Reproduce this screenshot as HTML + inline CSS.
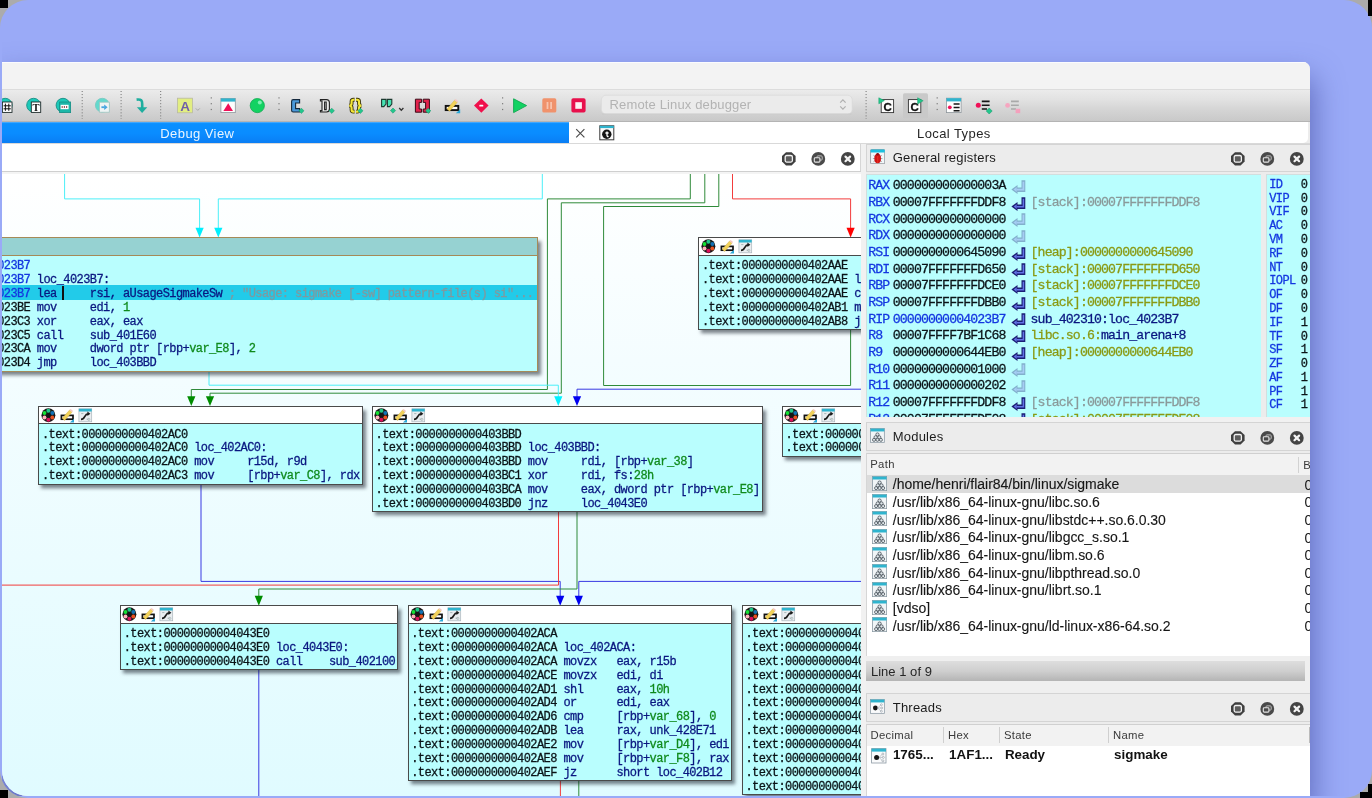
<!DOCTYPE html>
<html><head><meta charset="utf-8"><title>IDA</title>
<style>
*{box-sizing:border-box;margin:0;padding:0}
html,body{width:1372px;height:798px;overflow:hidden;background:#ababab}
body{font-family:"Liberation Sans",sans-serif;font-size:13px;color:#222;position:relative}
#bg{position:absolute;left:0;top:0;width:1372px;height:798px;border-radius:28px;background:#9aaaf7;overflow:hidden}
.blk{position:absolute;background:#000}
#win{position:absolute;left:2px;top:62px;width:1308px;height:734px;background:#ececec;border-radius:0 7px 0 26px;overflow:hidden;will-change:transform}
#wsh{position:absolute;left:2px;top:62px;width:1308px;height:734px;border-radius:0 7px 0 26px;box-shadow:0 18px 30px 3px rgba(45,55,140,.55);clip-path:inset(-40px -70px 0 0)}
#title{position:absolute;left:0;top:0;width:100%;height:27px;background:#f3f3f3;border-top:1px solid #fbfbfe}
#tool{position:absolute;left:0;top:27px;width:100%;height:33px;background:linear-gradient(#ebebeb 0%,#e2e2e2 30%,#d5d5d5 62%,#c9c9c9 100%);border-top:1px solid #dcdcdc;border-bottom:1px solid #b4b4b4}
#tabs{position:absolute;left:0;top:60px;width:1306px;height:21px;background:#fff;border-radius:0 0 5px 0}
#tabsel{position:absolute;left:0;top:0;width:566.8px;height:20.5px;background:linear-gradient(#58b2ff 0,#0a90ff 1.6px,#0a8cff 55%,#0a7ef4 100%)}
#tabsel span{position:absolute;left:158.3px;top:4px;color:#eaf5ff;font-size:13px;letter-spacing:.42px}
#tabx{position:absolute;left:573.3px;top:6.1px}
#tabi{position:absolute;left:597px;top:2.5px}
#ltypes{position:absolute;left:915px;top:4px;font-size:13px;color:#262626;letter-spacing:.42px}
#tabline{position:absolute;left:0;top:80.5px;width:100%;height:1px;background:#d9d9d9}
/* left pane */
#lhdr{position:absolute;left:0;top:82px;width:858.5px;height:27.5px;background:#fff;border-right:1px solid #d6d6d6}
#lline1{position:absolute;left:0;top:109.2px;width:858.5px;height:1.3px;background:#cfcfcf}
#lline2{position:absolute;left:0;top:111.6px;width:858.5px;height:1px;background:#c9c9c9}
#lgap{position:absolute;left:0;top:110.4px;width:858.5px;height:1.3px;background:#f4f4f4}
#graph{position:absolute;left:0;top:112.4px;width:858.7px;height:622px;overflow:hidden;background:linear-gradient(#ffffff 0%,#f4fdff 30%,#eafcff 65%,#e0fbff 100%)}
#gin{position:absolute;left:-2px;top:-174.4px;width:1372px;height:798px}
#gin svg.ed{position:absolute;left:0;top:0}
.node{position:absolute;border:1px solid #4a4a4a;background:#fff;box-shadow:3px 3.5px 3.5px rgba(20,30,40,.55);font-family:"Liberation Mono",monospace;font-size:12px;letter-spacing:-0.581px;white-space:pre;-webkit-text-stroke:.28px}
.node.cur{border-color:#a58a58}
.nh{height:17.4px;background:#fff;border-bottom:1px solid #4a4a4a;position:relative}
.nh.teal{background:#96d2d2;border-bottom-color:#a58a58}
.ni{position:absolute;left:.3px;top:0}
.nb{position:relative;background:#b9fefe;overflow:hidden}
.ln{position:absolute;left:2.6px;right:0;height:13.86px;line-height:13.86px}
.hlb{position:absolute;left:0;right:0;height:14.1px;background:#22cbe9}
.k{color:#0b1418}.n{color:#0a1780}.g{color:#0f8a1c}.b{color:#1437e0}.c{color:#7f9aa0}
.o{color:#8a9a14}.q{color:#8a9a9a}
#cursor{position:absolute;left:61.9px;top:286.4px;width:2.1px;height:13.3px;background:#111}
/* right side */
#split{position:absolute;left:858.5px;top:82px;width:5px;height:652px;background:#f1f1f1}
.ph{position:absolute;left:863.5px;width:444.5px;background:#ececec;border:1px solid #d4d4d4;border-right:none}
.ph .t{position:absolute;left:26.3px;font-size:13px;color:#1c1c1c;letter-spacing:.2px}
.ph svg.ic{position:absolute;left:3.7px;width:15.3px;height:15.3px}
.pb{position:absolute;top:6.6px}
#regs{position:absolute;left:863.7px;top:112.4px;width:395.6px;height:243.3px;background:#b9fefe;overflow:hidden;font-family:"Liberation Mono",monospace;font-size:13.2px;letter-spacing:-0.87px;white-space:pre;-webkit-text-stroke:.28px;border:1px solid #d2dede;border-right:none;border-bottom:none}
.rr{position:absolute;left:0;height:16.67px;line-height:16.67px;width:100%}
.rn{position:absolute;left:1.6px;color:#1437e0}
.rv{position:absolute;left:26.1px}
.ra{position:absolute;left:144.5px;top:1.5px}
.rc{position:absolute;left:163.9px}
#flags{position:absolute;left:1264px;top:112.4px;width:46px;height:243.3px;background:#b9fefe;overflow:hidden;font-family:"Liberation Mono",monospace;font-size:12px;letter-spacing:-0.581px;white-space:pre;-webkit-text-stroke:.28px;border-left:1px solid #d2dede;border-top:1px solid #d2dede}
.fr{position:absolute;left:2.2px;height:13.75px;line-height:13.75px}
.fv{position:absolute;left:31.6px}
#rgap{position:absolute;left:863.5px;top:355.4px;width:446px;height:5px;background:#f1f1f1}
/* modules */
#mods{position:absolute;left:863.7px;top:391.4px;width:446px;height:202.4px;background:#fff;overflow:hidden;border-left:1px solid #d6d6d6;border-top:1px solid #d0d0d0}
#mhead{position:absolute;left:0;top:0;width:100%;height:20.6px;background:#f2f2f2;font-size:11.3px;letter-spacing:.3px;color:#3a3a3a}
#mhead span{position:absolute;top:4.3px}
#mhead i{position:absolute;top:3px;width:1px;height:16px;background:#d2d2d2}
.mr{position:absolute;left:0;width:100%;height:17.65px}
.mr.sel{background:#dcdcdc}
.mi{position:absolute;left:5.5px;top:1.1px;width:15.6px;height:15.6px}
.mt{position:absolute;left:26.1px;top:1.35px;font-size:14px;color:#161616;white-space:pre;letter-spacing:-.02px;-webkit-text-stroke:.12px}
.mz{position:absolute;left:437.8px;top:1.6px;font-size:14px;color:#161616}
#mbelow{position:absolute;left:863.5px;top:593.6px;width:446px;height:38px;background:#efefef}
#status{position:absolute;left:863.7px;top:598.6px;width:439px;height:20px;background:linear-gradient(#dedede,#cfcfcf 50%,#b4b4b4);font-size:13px;color:#262626}
#status span{position:absolute;left:5.2px;top:3.1px;letter-spacing:.03px}
/* threads */
#thr{position:absolute;left:863.7px;top:662.4px;width:446px;height:72px;background:#fff;border-left:1px solid #d6d6d6;border-top:1px solid #d0d0d0;overflow:hidden}
#thead{position:absolute;left:0;top:0;width:100%;height:20.6px;background:#f2f2f2;font-size:11.3px;letter-spacing:.3px;color:#3a3a3a}
#thead span{position:absolute;top:3.8px}
#thead i{position:absolute;top:2px;width:1px;height:16px;background:#cfcfcf}
#trow{position:absolute;left:0;top:20.6px;width:100%;height:18px;font-size:13.4px;font-weight:bold;color:#111}
#trow span{position:absolute;top:1.3px}
</style></head><body>
<svg width="0" height="0" style="position:absolute"><defs>
<symbol id="nodeicons" viewBox="0 0 56 17">
 <circle cx="8.4" cy="8.2" r="6.95" fill="#1a1a1a"/>
 <circle cx="8.4" cy="3.7" r="2.0" fill="#20c888"/>
 <circle cx="12.3" cy="5.95" r="1.95" fill="#1272b4"/>
 <circle cx="12.3" cy="10.45" r="1.95" fill="#ea5220"/>
 <circle cx="8.4" cy="12.7" r="2.0" fill="#e0105c"/>
 <circle cx="4.5" cy="10.45" r="1.95" fill="#ffb4bc"/>
 <circle cx="4.5" cy="5.95" r="1.95" fill="#14e034"/>
 <circle cx="8.4" cy="8.2" r="2.3" fill="#151515"/>
 <rect x="21.4" y="8.4" width="11.6" height="3.8" fill="#fff" stroke="#111" stroke-width="1.7"/>
 <path d="M22.2 11.2 L29.6 3 L32 5.2 L24.6 13.4 Z" fill="#f2d25a" stroke="#c9a63a" stroke-width=".4"/>
 <path d="M29.6 3 L30.7 1.9 L33.1 4.1 L32 5.2Z" fill="#f4c6c0"/>
 <path d="M34 11.8 L34 15.4 L29.8 15.4 Z" fill="#2aa8d8"/>
 <rect x="38.9" y="1.8" width="12.8" height="13" fill="#e9edf0" stroke="#a9b4bc" stroke-width=".7"/>
 <rect x="38.9" y="1.8" width="12.8" height="2.7" fill="#2fb4ce"/>
 <path d="M41 12.4 C45.4 12.4 44 6.8 48.2 6.8" fill="none" stroke="#1c1c1c" stroke-width="1.7"/>
 <path d="M47.4 4.6 L50.4 6.8 L47.4 9Z" fill="#1c1c1c"/>
 <path d="M41.2 6.6 L43.4 6.6 M46.6 12.2 L48.6 12.2" stroke="#9aa" stroke-width=".8"/>
 <circle cx="48.8" cy="12.4" r="1.1" fill="none" stroke="#9aa" stroke-width=".6"/>
</symbol>
<symbol id="panelbtns" viewBox="0 0 76 16">
 <path d="M5 1.2 L10.6 1.2 L14.6 5 L14.6 10.6 L10.6 14.6 L5 14.6 L1 10.6 L1 5Z" fill="#3f3f3f"/>
 <rect x="4.2" y="4.5" width="7.2" height="6.6" rx="1.5" fill="#5c5c5c" stroke="#f2f2f2" stroke-width="1.3"/>
 <circle cx="37.3" cy="7.9" r="6.9" fill="#4a4a4a"/>
 <rect x="36" y="4.9" width="5.2" height="4.2" rx=".9" fill="none" stroke="#bdbdbd" stroke-width="1"/>
 <rect x="33.3" y="6.7" width="5.6" height="4.4" rx=".9" fill="#4a4a4a" stroke="#e6e6e6" stroke-width="1.1"/>
 <circle cx="66.8" cy="7.9" r="6.9" fill="#444"/>
 <path d="M64.5 5.6 L69.1 10.2 M69.1 5.6 L64.5 10.2" stroke="#f4f4f4" stroke-width="2.2" stroke-linecap="round"/>
</symbol>
<symbol id="bugicon" viewBox="0 0 16 16">
 <rect x=".6" y=".6" width="14.8" height="14.8" rx=".8" fill="#f1f7f9" stroke="#8e9298" stroke-width=".9"/>
 <path d="M.6 1.4 Q.6 .6 1.4 .6 H14.6 Q15.4 .6 15.4 1.4 V3.7 H.6Z" fill="#1cc0de"/>
 <path d="M3.6 6.6 L12.4 13.4 M12.4 6.6 L3.6 13.4 M3 10 L13 10" stroke="#8a9296" stroke-width=".8"/>
 <ellipse cx="8" cy="9.9" rx="3.5" ry="4.9" fill="#cf1414"/>
 <path d="M8 5.2 V14.6" stroke="#e42a1a" stroke-width="1.4"/>
 <circle cx="8" cy="5.6" r="1.5" fill="#8e1010"/>
</symbol>
<symbol id="modicon" viewBox="0 0 16 16">
 <rect x=".6" y=".6" width="14.4" height="14.4" fill="#f1f5f7" stroke="#8c9aa4" stroke-width=".8"/>
 <rect x=".6" y=".6" width="14.4" height="3" fill="#2fb4ce"/>
 <g fill="#dfe6ea" stroke="#3c464e" stroke-width=".75">
  <circle cx="7.8" cy="6.8" r="1.7"/><circle cx="5.9" cy="9.7" r="1.7"/><circle cx="9.7" cy="9.7" r="1.7"/>
  <circle cx="4.2" cy="12.4" r="1.6"/><circle cx="7.8" cy="12.4" r="1.6"/><circle cx="11.4" cy="12.4" r="1.6"/>
 </g>
</symbol>
<symbol id="thricon" viewBox="0 0 16 16">
 <rect x=".6" y=".6" width="14.4" height="14.4" fill="#fafbfc" stroke="#8c9aa4" stroke-width=".8"/>
 <rect x=".6" y=".6" width="14.4" height="3" fill="#2fb4ce"/>
 <circle cx="5.6" cy="9.4" r="2.5" fill="#161616"/>
 <path d="M8 9.4 L11.4 6.2 M8 9.4 L11.8 9.4 M8 9.4 L11.4 12.6" stroke="#9aa4ac" stroke-width=".6"/>
 <g fill="#fff" stroke="#8a949c" stroke-width=".6"><circle cx="11.9" cy="6" r="1"/><circle cx="12.3" cy="9.4" r="1"/><circle cx="11.9" cy="12.8" r="1"/></g>
</symbol>
<symbol id="tabicon" viewBox="0 0 16 16">
 <rect x=".8" y=".8" width="14" height="14" fill="#fbfbfb" stroke="#3a3a3a" stroke-width="1"/>
 <rect x=".8" y=".8" width="14" height="2.3" fill="#2fb4ce"/>
 <circle cx="7.8" cy="9.2" r="4.7" fill="#141414"/>
 <path d="M8 6.4 V10.6 Q8 11.8 9.6 11.4 M6.4 8 H9.6" stroke="#fff" stroke-width="1.3" fill="none"/>
</symbol>
<symbol id="retd" viewBox="0 0 15 14">
 <path d="M10.5 0.2 H14.3 V11.9 H6.5 V13.9 L0.35 9.6 L6.5 4.9 V7.4 H10.5 Z" fill="#1b1f74"/>
 <path d="M12.4 1.7 V9.65 H5.6" fill="none" stroke="#6272e6" stroke-width="1.5"/>
 <path d="M2.7 9.6 L5.7 7.3 V11.9Z" fill="#6272e6"/>
</symbol>
<symbol id="retl" viewBox="0 0 15 14">
 <path d="M10.5 0.2 H14.3 V11.9 H6.5 V13.9 L0.35 9.6 L6.5 4.9 V7.4 H10.5 Z" fill="#82b0cc"/>
 <path d="M12.4 1.7 V9.65 H5.6" fill="none" stroke="#a6cdf4" stroke-width="1.7"/>
 <path d="M2.5 9.6 L5.7 7.1 V12.1Z" fill="#a6cdf4"/>
</symbol>
</defs></svg>
<div id="bg">
<div id="wsh"></div>
<div id="win">
 <div id="title"></div>
 <div id="tool"><svg style="position:absolute;left:0;top:-1px" width="1308" height="33" viewBox="2 89 1308 33"><circle cx="5.2" cy="105.2" r="6.9" fill="#1cc9b8" stroke="#168f86" stroke-width=".9"/><rect x="2.4" y="102" width="9.6" height="10.4" fill="#fff" stroke="#1f2b2b" stroke-width=".9"/><path d="M5.4 103.6 V110.8 M8.8 103.6 V110.8 M3.6 105.8 H10.8 M3.6 108.8 H10.8" stroke="#111" stroke-width="1"/><circle cx="33.6" cy="105.2" r="6.9" fill="#1cc9b8" stroke="#168f86" stroke-width=".9"/><rect x="31.3" y="102" width="9.4" height="10.4" fill="#fff" stroke="#1f2b2b" stroke-width=".9"/><text x="36" y="111.3" font-family="Liberation Serif" font-weight="bold" font-size="10.5" text-anchor="middle" fill="#111">T</text><circle cx="63.0" cy="105.2" r="6.9" fill="#1cc9b8" stroke="#168f86" stroke-width=".9"/><rect x="59.6" y="102" width="11" height="10.6" fill="#1cb7a8" stroke="#168f86" stroke-width=".8"/><rect x="60.6" y="104.8" width="8" height="4.4" fill="#fff"/><path d="M61.6 107 h1.2 m1 0 h1.2 m1 0 h1.2" stroke="#7a2a2a" stroke-width="1.6"/><line x1="82.2" y1="91" x2="82.2" y2="119" stroke="#707070" stroke-width="1" stroke-dasharray="1 2.05"/><circle cx="102.3" cy="105.2" r="6.9" fill="#62d9cd" stroke="#7ac9c2" stroke-width=".9"/><rect x="99.5" y="102.2" width="9.8" height="10" fill="#eef4f4" stroke="#9fc6c2" stroke-width=".8"/><path d="M101.4 107.2 H104.6" stroke="#46a6e0" stroke-width="1.8"/><path d="M104.2 104.4 L107.6 107.2 L104.2 110Z" fill="#46a6e0"/><line x1="121.1" y1="91" x2="121.1" y2="119" stroke="#707070" stroke-width="1" stroke-dasharray="1 2.05"/><path d="M136.6 99.6 C141.4 99 142.2 100.4 142.2 104 L142.2 108" fill="none" stroke="#1fae9f" stroke-width="2.6"/><path d="M136.9 107.3 L147.3 107.3 L142.1 112.9Z" fill="#1fae9f"/><line x1="160.7" y1="91" x2="160.7" y2="119" stroke="#707070" stroke-width="1" stroke-dasharray="1 2.05"/><rect x="177.4" y="98.2" width="15" height="14.6" fill="#e2ee82" stroke="#b9b9a0" stroke-width=".8"/><text x="185" y="110.6" font-family="Liberation Sans" font-weight="bold" font-size="13.5" text-anchor="middle" fill="#7060a8">A</text><path d="M195.8 108.4 L197.8 110.4 L199.8 108.4" fill="none" stroke="#a8a8a8" stroke-width="1"/><rect x="210.7" y="97.3" width="1.2" height="1.2" fill="#7a7a7a"/><rect x="210.7" y="103.1" width="1.2" height="1.2" fill="#7a7a7a"/><rect x="210.7" y="108.9" width="1.2" height="1.2" fill="#7a7a7a"/><rect x="220.9" y="98.4" width="14.4" height="14.2" fill="#fdfdfd" stroke="#8e969c" stroke-width=".8"/><rect x="220.9" y="98.4" width="14.4" height="3.2" fill="#2fb4ce"/><path d="M223.4 111 L233 111 L228.2 103.2Z" fill="#f01058"/><circle cx="257.3" cy="105.6" r="7.1" fill="#12d262" stroke="#0faa50" stroke-width=".8"/><circle cx="259.8" cy="102.4" r="2" fill="#7af0b0"/><rect x="278.4" y="97.3" width="1.2" height="1.2" fill="#7a7a7a"/><rect x="278.4" y="103.1" width="1.2" height="1.2" fill="#7a7a7a"/><rect x="278.4" y="108.9" width="1.2" height="1.2" fill="#7a7a7a"/><path d="M299.6 99.6 H293.2 Q291.6 99.6 291.6 101.4 V110.2 Q291.6 112 293.2 112 H299.6 V108.6 H295.6 V103 H299.6Z" fill="#4a98da" stroke="#14283c" stroke-width="1.1"/><path d="M301.4 108.2 L304.0 110.8 L301.4 113.4 L298.8 110.8Z" fill="#22c78c" stroke="#14936a" stroke-width=".5"/><path d="M320.4 99.6 H326.4 Q329.4 99.6 329.4 102.6 V109 Q329.4 112 326.4 112 H320.4 V110.6 H322 V101 H320.4Z M324.6 102 V109.6 H326.2 V102Z" fill="#e9e9e9" stroke="#222" stroke-width="1.1" fill-rule="evenodd"/><path d="M331.8 108.2 L334.4 110.8 L331.8 113.4 L329.2 110.8Z" fill="#22c78c" stroke="#14936a" stroke-width=".5"/><path d="M354.6 99.8 H353.4 Q351.6 99.8 351.6 101.6 V103.6 Q351.6 105.4 349.4 105.7 Q351.6 106 351.6 107.8 V109.8 Q351.6 111.6 353.4 111.6 H354.6 M356 99.8 H357.2 Q359 99.8 359 101.6 V103.6 Q359 105.4 361.2 105.7 Q359 106 359 107.8 V109.8 Q359 111.6 357.2 111.6 H356" fill="none" stroke="#3c360c" stroke-width="3.9"/><path d="M354.6 99.8 H353.4 Q351.6 99.8 351.6 101.6 V103.6 Q351.6 105.4 349.4 105.7 Q351.6 106 351.6 107.8 V109.8 Q351.6 111.6 353.4 111.6 H354.6 M356 99.8 H357.2 Q359 99.8 359 101.6 V103.6 Q359 105.4 361.2 105.7 Q359 106 359 107.8 V109.8 Q359 111.6 357.2 111.6 H356" fill="none" stroke="#f4e636" stroke-width="2.1"/><path d="M360.4 108.2 L363.0 110.8 L360.4 113.4 L357.8 110.8Z" fill="#22c78c" stroke="#14936a" stroke-width=".5"/><path d="M381.6 99.4 H386 V104 L383.8 106.6 H381.6Z M387.4 99.4 H391.8 V104 L389.6 106.6 H387.4Z" fill="#46e2b2" stroke="#1c3a30" stroke-width="1.1"/><path d="M393.0 108.0 L395.6 110.6 L393.0 113.2 L390.4 110.6Z" fill="#22c78c" stroke="#14936a" stroke-width=".5"/><path d="M399.2 108 L401.3 110.2 L403.4 108" fill="none" stroke="#333" stroke-width="1.3"/><path d="M421.6 99.2 H415.4 V112.2 H421.6 V109 H419.2 V102.4 H421.6Z M423.2 99.2 H429.4 V112.2 H423.2 V109 H425.6 V102.4 H423.2Z" fill="#e2224c" stroke="#3a0a16" stroke-width="1"/><path d="M428.2 108.2 L430.8 110.8 L428.2 113.4 L425.6 110.8Z" fill="#22c78c" stroke="#14936a" stroke-width=".5"/><rect x="445.7" y="105.9" width="12.6" height="4.2" fill="#fff" stroke="#111" stroke-width="1.9"/><path d="M447 109 L454.6 100.2 L457.2 102.4 L449.6 111.2Z" fill="#f2d25a" stroke="#c9a63a" stroke-width=".4"/><path d="M454.6 100.2 L455.7 99 L458.3 101.2 L457.2 102.4Z" fill="#f4c6c0"/><path d="M460.2 109.2 V113.2 H455.8Z" fill="#2aa8d8"/><path d="M481.3 98.4 L488.6 105.6 L481.3 112.8 L474 105.6Z" fill="#f0104c"/><rect x="479.3" y="104.8" width="4" height="1.7" rx=".6" fill="#fff"/><rect x="502.0" y="97.3" width="1.2" height="1.2" fill="#7a7a7a"/><rect x="502.0" y="103.1" width="1.2" height="1.2" fill="#7a7a7a"/><rect x="502.0" y="108.9" width="1.2" height="1.2" fill="#7a7a7a"/><path d="M513.6 98.8 L526.6 105.6 L513.6 112.6Z" fill="#12d262" stroke="#0fa850" stroke-width=".9" stroke-linejoin="round"/><rect x="542.3" y="98.3" width="14" height="14.3" rx="1.6" fill="#f0926c"/><rect x="546.6" y="102" width="1.8" height="7" fill="#f8c4ae"/><rect x="550.2" y="102" width="1.8" height="7" fill="#f8c4ae"/><rect x="571.4" y="98.3" width="14.2" height="14.3" rx="1.8" fill="#e8104c"/><rect x="575.3" y="102.2" width="6.6" height="6.6" fill="#fdf0f2"/><rect x="601.4" y="95.2" width="250.8" height="18.8" rx="4.6" fill="#ebebeb" stroke="#d9d9d9" stroke-width=".7"/><rect x="602" y="113.4" width="249.6" height="1" rx=".5" fill="#c6c6c6" opacity=".6"/><text x="609.6" y="109.3" font-family="Liberation Sans" font-size="13" fill="#b3b3b3" letter-spacing=".14">Remote Linux debugger</text><path d="M840.2 102.6 L842.9 99.9 L845.6 102.6 M840.2 106.4 L842.9 109.1 L845.6 106.4" fill="none" stroke="#b0b0b0" stroke-width="1.2"/><line x1="866.1" y1="91" x2="866.1" y2="119" stroke="#707070" stroke-width="1" stroke-dasharray="1 2.05"/><rect x="881.2" y="99.6" width="12.4" height="13" fill="#fcfcfc" stroke="#333" stroke-width=".9"/><text x="887.6" y="110.9" font-family="Liberation Sans" font-weight="bold" font-size="11.5" text-anchor="middle" fill="#111" stroke="#111" stroke-width=".3">C</text><path d="M878.8 97.8 L884.4 100.6 L878.8 103.8Z" fill="#22c98c" stroke="#159a68" stroke-width=".5"/><rect x="903" y="93.2" width="25" height="25.2" rx="1.6" fill="#c9c9c9"/><rect x="908.4" y="99.6" width="12.4" height="13" fill="#fcfcfc" stroke="#333" stroke-width=".9"/><text x="914.6" y="110.9" font-family="Liberation Sans" font-weight="bold" font-size="11.5" text-anchor="middle" fill="#111" stroke="#111" stroke-width=".3">C</text><path d="M917.6 97.8 L923.2 100.8 L917.6 104Z" fill="#22c98c" stroke="#159a68" stroke-width=".5"/><rect x="936.6" y="97.3" width="1.2" height="1.2" fill="#7a7a7a"/><rect x="936.6" y="103.1" width="1.2" height="1.2" fill="#7a7a7a"/><rect x="936.6" y="108.9" width="1.2" height="1.2" fill="#7a7a7a"/><rect x="946.5" y="98.2" width="14.6" height="14.4" fill="#fdfdfd" stroke="#8e969c" stroke-width=".8"/><rect x="946.5" y="98.2" width="14.6" height="3.2" fill="#2fb4ce"/><circle cx="949.8" cy="107.3" r="1.9" fill="#f01058"/><path d="M953.6 104 H959.6 M953.6 107.4 H959.6 M953.6 110.8 H959.6" stroke="#161616" stroke-width="1.5"/><circle cx="978.3" cy="105.3" r="2.5" fill="#f01058"/><path d="M981.8 101.4 H989.6 M981.8 105.2 H989.6 M981.8 109 H987" stroke="#161616" stroke-width="1.6"/><path d="M989.2 108.0 L992.2 111.0 L989.2 114.0 L986.2 111.0Z" fill="#22c78c" stroke="#14936a" stroke-width=".5"/><circle cx="1007.6" cy="105.4" r="2.4" fill="#f6a6c0"/><path d="M1011 101.4 H1018.8 M1011 105.2 H1018.8 M1011 109 H1016" stroke="#a9a9a9" stroke-width="1.6"/><rect x="1015.6" y="108.8" width="4.6" height="4.4" fill="#f4a0bc"/></svg></div>
 <div id="tabs"><div id="tabsel"><span>Debug View</span></div>
  <svg id="tabx" width="11" height="11" viewBox="0 0 11 11"><path d="M1.2 1.2 L9.4 9.4 M9.4 1.2 L1.2 9.4" stroke="#4a4a4a" stroke-width="1.15" fill="none"/></svg>
  <svg id="tabi" width="16" height="16" viewBox="0 0 16 16"><use href="#tabicon"/></svg>
  <span id="ltypes">Local Types</span>
 </div>
 <div id="tabline"></div>
 <div id="lhdr"><svg class="pb" style="left:779.1px" width="76" height="16" viewBox="0 0 76 16"><use href="#panelbtns"/></svg></div>
 <div id="lline1"></div><div id="lgap"></div><div id="lline2"></div>
 <div id="graph"><div id="gin">
  <svg class="ed" width="1372" height="798" viewBox="0 0 1372 798"><polyline fill="none" stroke="#4aeff8" stroke-width="1.0" points="64.60,174.00 64.60,198.90 199.60,198.90 199.60,230.00"/>
<polygon fill="#00f0ff" points="195.50,227.70 203.70,227.70 199.60,237.60"/>
<polyline fill="none" stroke="#4aeff8" stroke-width="1.0" points="542.30,174.00 542.30,198.90 218.30,198.90 218.30,230.00"/>
<polygon fill="#00f0ff" points="214.20,227.70 222.40,227.70 218.30,237.60"/>
<polyline fill="none" stroke="#2f8a3a" stroke-width="1.0" points="690.30,174.00 690.30,198.90 547.40,198.90 547.40,389.50 191.30,389.50 191.30,398.00"/>
<polygon fill="#008c00" points="187.20,396.20 195.40,396.20 191.30,406.10"/>
<polyline fill="none" stroke="#2f8a3a" stroke-width="1.0" points="704.80,174.00 704.80,202.80 561.30,202.80 561.30,393.20 210.00,393.20 210.00,398.00"/>
<polygon fill="#008c00" points="205.90,396.20 214.10,396.20 210.00,406.10"/>
<polyline fill="none" stroke="#2f8a3a" stroke-width="1.0" points="718.80,174.00 718.80,206.50 603.60,206.50 603.60,385.50 850.60,385.50 850.60,330.00"/>
<polyline fill="none" stroke="#f23c3c" stroke-width="1.0" points="732.50,174.00 732.50,198.90 850.60,198.90 850.60,230.00"/>
<polygon fill="#ff0000" points="846.50,227.70 854.70,227.70 850.60,237.60"/>
<polyline fill="none" stroke="#4aeff8" stroke-width="1.0" points="209.00,371.00 209.00,385.20 558.30,385.20 558.30,398.00"/>
<polygon fill="#00f0ff" points="554.20,396.20 562.40,396.20 558.30,406.10"/>
<polyline fill="none" stroke="#3838e2" stroke-width="1.0" points="900.00,389.20 577.00,389.20 577.00,398.00"/>
<polygon fill="#0000f0" points="572.90,396.20 581.10,396.20 577.00,406.10"/>
<polyline fill="none" stroke="#3838e2" stroke-width="1.0" points="201.00,484.00 201.00,581.40 560.20,581.40 560.20,598.00"/>
<polygon fill="#0000f0" points="556.10,595.80 564.30,595.80 560.20,605.70"/>
<polyline fill="none" stroke="#3838e2" stroke-width="1.0" points="900.00,581.40 578.80,581.40 578.80,598.00"/>
<polygon fill="#0000f0" points="574.70,595.80 582.90,595.80 578.80,605.70"/>
<polyline fill="none" stroke="#f23c3c" stroke-width="1.0" points="558.50,512.00 558.50,585.10 -5.00,585.10"/>
<polyline fill="none" stroke="#2f8a3a" stroke-width="1.0" points="577.00,512.00 577.00,589.00 258.80,589.00 258.80,598.00"/>
<polygon fill="#008c00" points="254.70,595.80 262.90,595.80 258.80,605.70"/>
<polyline fill="none" stroke="#3838e2" stroke-width="1.0" points="258.80,670.00 258.80,800.00"/>
<polyline fill="none" stroke="#f23c3c" stroke-width="1.0" points="560.40,781.00 560.40,800.00"/>
<polyline fill="none" stroke="#2f8a3a" stroke-width="1.0" points="578.80,781.00 578.80,800.00"/></svg>
  <div class="node cur" style="left:-119.00px;top:237.30px;width:656.60px"><div class="nh teal"></div><div class="nb" style="height:114.98px"><div class="hlb" style="top:29.72px"></div><div class="ln" style="top:4.60px"><span class="b">.text:00000000004023B7</span></div><div class="ln" style="top:18.46px"><span class="b">.text:00000000004023B7</span><span class="n"> loc_4023B7:</span></div><div class="ln" style="top:32.32px"><span class="b">.text:00000000004023B7</span><span class="n"> lea     rsi, aUsageSigmakeSw</span><span class="c"> ; "Usage: sigmake [-sw] pattern-file(s) si"...</span></div><div class="ln" style="top:46.18px"><span class="k">.text:00000000004023BE</span><span class="n"> mov     edi, </span><span class="g">1</span></div><div class="ln" style="top:60.04px"><span class="k">.text:00000000004023C3</span><span class="n"> xor     eax, eax</span></div><div class="ln" style="top:73.90px"><span class="k">.text:00000000004023C5</span><span class="n"> call    sub_401E60</span></div><div class="ln" style="top:87.76px"><span class="k">.text:00000000004023CA</span><span class="n"> mov     dword ptr [rbp+</span><span class="g">var_E8</span><span class="n">], </span><span class="g">2</span></div><div class="ln" style="top:101.62px"><span class="k">.text:00000000004023D4</span><span class="n"> jmp     loc_403BBD</span></div></div></div>
<div class="node " style="left:38.30px;top:405.60px;width:324.60px"><div class="nh"><svg class="ni" width="56" height="17" viewBox="0 0 56 17"><use href="#nodeicons"/></svg></div><div class="nb" style="height:59.54px"><div class="ln" style="top:4.60px"><span class="k">.text:0000000000402AC0</span></div><div class="ln" style="top:18.46px"><span class="k">.text:0000000000402AC0</span><span class="n"> loc_402AC0:</span></div><div class="ln" style="top:32.32px"><span class="k">.text:0000000000402AC0</span><span class="n"> mov     r15d, r9d</span></div><div class="ln" style="top:46.18px"><span class="k">.text:0000000000402AC3</span><span class="n"> mov     [rbp+</span><span class="g">var_C8</span><span class="n">], rdx</span></div></div></div>
<div class="node " style="left:372.00px;top:405.60px;width:391.20px"><div class="nh"><svg class="ni" width="56" height="17" viewBox="0 0 56 17"><use href="#nodeicons"/></svg></div><div class="nb" style="height:87.26px"><div class="ln" style="top:4.60px"><span class="k">.text:0000000000403BBD</span></div><div class="ln" style="top:18.46px"><span class="k">.text:0000000000403BBD</span><span class="n"> loc_403BBD:</span></div><div class="ln" style="top:32.32px"><span class="k">.text:0000000000403BBD</span><span class="n"> mov     rdi, [rbp+</span><span class="g">var_38</span><span class="n">]</span></div><div class="ln" style="top:46.18px"><span class="k">.text:0000000000403BC1</span><span class="n"> xor     rdi, fs:</span><span class="g">28h</span></div><div class="ln" style="top:60.04px"><span class="k">.text:0000000000403BCA</span><span class="n"> mov     eax, dword ptr [rbp+</span><span class="g">var_E8</span><span class="n">]</span></div><div class="ln" style="top:73.90px"><span class="k">.text:0000000000403BD0</span><span class="n"> jnz     loc_4043E0</span></div></div></div>
<div class="node " style="left:781.80px;top:405.60px;width:300.00px"><div class="nh"><svg class="ni" width="56" height="17" viewBox="0 0 56 17"><use href="#nodeicons"/></svg></div><div class="nb" style="height:31.82px"><div class="ln" style="top:4.60px"><span class="k">.text:0000000000402B12</span></div><div class="ln" style="top:18.46px"><span class="k">.text:0000000000402B12</span><span class="n"> loc_402B12:</span></div></div></div>
<div class="node " style="left:698.30px;top:237.30px;width:300.00px"><div class="nh"><svg class="ni" width="56" height="17" viewBox="0 0 56 17"><use href="#nodeicons"/></svg></div><div class="nb" style="height:73.40px"><div class="ln" style="top:4.60px"><span class="k">.text:0000000000402AAE</span></div><div class="ln" style="top:18.46px"><span class="k">.text:0000000000402AAE</span><span class="n"> loc_402AAE:</span></div><div class="ln" style="top:32.32px"><span class="k">.text:0000000000402AAE</span><span class="n"> cmp     eax, 1</span></div><div class="ln" style="top:46.18px"><span class="k">.text:0000000000402AB1</span><span class="n"> mov     [rbp+var_E8], 1</span></div><div class="ln" style="top:60.04px"><span class="k">.text:0000000000402AB8</span><span class="n"> jz      loc_402AC0</span></div></div></div>
<div class="node " style="left:120.10px;top:605.20px;width:278.40px"><div class="nh"><svg class="ni" width="56" height="17" viewBox="0 0 56 17"><use href="#nodeicons"/></svg></div><div class="nb" style="height:45.68px"><div class="ln" style="top:4.60px"><span class="k">.text:00000000004043E0</span></div><div class="ln" style="top:18.46px"><span class="k">.text:00000000004043E0</span><span class="n"> loc_4043E0:</span></div><div class="ln" style="top:32.32px"><span class="k">.text:00000000004043E0</span><span class="n"> call    sub_402100</span></div></div></div>
<div class="node " style="left:407.60px;top:605.20px;width:324.60px"><div class="nh"><svg class="ni" width="56" height="17" viewBox="0 0 56 17"><use href="#nodeicons"/></svg></div><div class="nb" style="height:156.56px"><div class="ln" style="top:4.60px"><span class="k">.text:0000000000402ACA</span></div><div class="ln" style="top:18.46px"><span class="k">.text:0000000000402ACA</span><span class="n"> loc_402ACA:</span></div><div class="ln" style="top:32.32px"><span class="k">.text:0000000000402ACA</span><span class="n"> movzx   eax, r15b</span></div><div class="ln" style="top:46.18px"><span class="k">.text:0000000000402ACE</span><span class="n"> movzx   edi, di</span></div><div class="ln" style="top:60.04px"><span class="k">.text:0000000000402AD1</span><span class="n"> shl     eax, </span><span class="g">10h</span></div><div class="ln" style="top:73.90px"><span class="k">.text:0000000000402AD4</span><span class="n"> or      edi, eax</span></div><div class="ln" style="top:87.76px"><span class="k">.text:0000000000402AD6</span><span class="n"> cmp     [rbp+</span><span class="g">var_68</span><span class="n">], </span><span class="g">0</span></div><div class="ln" style="top:101.62px"><span class="k">.text:0000000000402ADB</span><span class="n"> lea     rax, unk_428E71</span></div><div class="ln" style="top:115.48px"><span class="k">.text:0000000000402AE2</span><span class="n"> mov     [rbp+</span><span class="g">var_D4</span><span class="n">], edi</span></div><div class="ln" style="top:129.34px"><span class="k">.text:0000000000402AE8</span><span class="n"> mov     [rbp+</span><span class="g">var_F8</span><span class="n">], rax</span></div><div class="ln" style="top:143.20px"><span class="k">.text:0000000000402AEF</span><span class="n"> jz      short loc_402B12</span></div></div></div>
<div class="node " style="left:741.80px;top:605.20px;width:300.00px"><div class="nh"><svg class="ni" width="56" height="17" viewBox="0 0 56 17"><use href="#nodeicons"/></svg></div><div class="nb" style="height:170.42px"><div class="ln" style="top:4.60px"><span class="k">.text:0000000000404310</span><span class="n"> mov     rax, rdx</span></div><div class="ln" style="top:18.46px"><span class="k">.text:0000000000404310</span><span class="n"> mov     rax, rdx</span></div><div class="ln" style="top:32.32px"><span class="k">.text:0000000000404310</span><span class="n"> mov     rax, rdx</span></div><div class="ln" style="top:46.18px"><span class="k">.text:0000000000404317</span><span class="n"> mov     rax, rdx</span></div><div class="ln" style="top:60.04px"><span class="k">.text:000000000040431A</span><span class="n"> mov     rax, rdx</span></div><div class="ln" style="top:73.90px"><span class="k">.text:0000000000404320</span><span class="n"> mov     rax, rdx</span></div><div class="ln" style="top:87.76px"><span class="k">.text:0000000000404327</span><span class="n"> mov     rax, rdx</span></div><div class="ln" style="top:101.62px"><span class="k">.text:000000000040432E</span><span class="n"> mov     rax, rdx</span></div><div class="ln" style="top:115.48px"><span class="k">.text:0000000000404335</span><span class="n"> mov     rax, rdx</span></div><div class="ln" style="top:129.34px"><span class="k">.text:000000000040433A</span><span class="n"> mov     rax, rdx</span></div><div class="ln" style="top:143.20px"><span class="k">.text:0000000000404341</span><span class="n"> mov     rax, rdx</span></div><div class="ln" style="top:157.06px"><span class="k">.text:0000000000404346</span><span class="n"> mov     rax, rdx</span></div></div></div>
  <div id="cursor"></div>
 </div></div>
 <div id="split"></div>
 <div class="ph" style="top:81.5px;height:28.5px"><svg class="ic" style="top:4.6px" width="16" height="16" viewBox="0 0 16 16"><use href="#bugicon"/></svg><span class="t" style="top:5.2px">General registers</span><svg class="pb" style="right:4.2px" width="76" height="16" viewBox="0 0 76 16"><use href="#panelbtns"/></svg></div>
 <div id="regs"><div class="rr" style="top:2.95px"><span class="rn">RAX</span><span class="rv k">000000000000003A</span><svg class="ra" width="15" height="14" viewBox="0 0 15 14"><use href="#retl"/></svg></div><div class="rr" style="top:19.62px"><span class="rn">RBX</span><span class="rv k">00007FFFFFFFDDF8</span><svg class="ra" width="15" height="14" viewBox="0 0 15 14"><use href="#retd"/></svg><span class="rc"><span class="q">[stack]:00007FFFFFFFDDF8</span></span></div><div class="rr" style="top:36.29px"><span class="rn">RCX</span><span class="rv k">0000000000000000</span><svg class="ra" width="15" height="14" viewBox="0 0 15 14"><use href="#retl"/></svg></div><div class="rr" style="top:52.96px"><span class="rn">RDX</span><span class="rv k">0000000000000000</span><svg class="ra" width="15" height="14" viewBox="0 0 15 14"><use href="#retl"/></svg></div><div class="rr" style="top:69.63px"><span class="rn">RSI</span><span class="rv k">0000000000645090</span><svg class="ra" width="15" height="14" viewBox="0 0 15 14"><use href="#retd"/></svg><span class="rc"><span class="o">[heap]:0000000000645090</span></span></div><div class="rr" style="top:86.30px"><span class="rn">RDI</span><span class="rv k">00007FFFFFFFD650</span><svg class="ra" width="15" height="14" viewBox="0 0 15 14"><use href="#retd"/></svg><span class="rc"><span class="o">[stack]:00007FFFFFFFD650</span></span></div><div class="rr" style="top:102.97px"><span class="rn">RBP</span><span class="rv k">00007FFFFFFFDCE0</span><svg class="ra" width="15" height="14" viewBox="0 0 15 14"><use href="#retd"/></svg><span class="rc"><span class="o">[stack]:00007FFFFFFFDCE0</span></span></div><div class="rr" style="top:119.64px"><span class="rn">RSP</span><span class="rv k">00007FFFFFFFDBB0</span><svg class="ra" width="15" height="14" viewBox="0 0 15 14"><use href="#retd"/></svg><span class="rc"><span class="o">[stack]:00007FFFFFFFDBB0</span></span></div><div class="rr" style="top:136.31px"><span class="rn">RIP</span><span class="rv b">00000000004023B7</span><svg class="ra" width="15" height="14" viewBox="0 0 15 14"><use href="#retd"/></svg><span class="rc"><span class="n">sub_402310:loc_4023B7</span></span></div><div class="rr" style="top:152.98px"><span class="rn">R8</span><span class="rv k">00007FFFF7BF1C68</span><svg class="ra" width="15" height="14" viewBox="0 0 15 14"><use href="#retd"/></svg><span class="rc"><span class="o">libc.so.6:</span><span class="n">main_arena+8</span></span></div><div class="rr" style="top:169.65px"><span class="rn">R9</span><span class="rv k">0000000000644EB0</span><svg class="ra" width="15" height="14" viewBox="0 0 15 14"><use href="#retd"/></svg><span class="rc"><span class="o">[heap]:0000000000644EB0</span></span></div><div class="rr" style="top:186.32px"><span class="rn">R10</span><span class="rv k">0000000000001000</span><svg class="ra" width="15" height="14" viewBox="0 0 15 14"><use href="#retl"/></svg></div><div class="rr" style="top:202.99px"><span class="rn">R11</span><span class="rv k">0000000000000202</span><svg class="ra" width="15" height="14" viewBox="0 0 15 14"><use href="#retl"/></svg></div><div class="rr" style="top:219.66px"><span class="rn">R12</span><span class="rv k">00007FFFFFFFDDF8</span><svg class="ra" width="15" height="14" viewBox="0 0 15 14"><use href="#retd"/></svg><span class="rc"><span class="q">[stack]:00007FFFFFFFDDF8</span></span></div><div class="rr" style="top:236.33px"><span class="rn">R13</span><span class="rv k">00007FFFFFFFDE08</span><svg class="ra" width="15" height="14" viewBox="0 0 15 14"><use href="#retd"/></svg><span class="rc"><span class="o">[stack]:00007FFFFFFFDE08</span></span></div></div>
 <div id="flags"><div class="fr" style="top:3.45px"><span class="b">ID</span><span class="fv k">0</span></div><div class="fr" style="top:17.24px"><span class="b">VIP</span><span class="fv k">0</span></div><div class="fr" style="top:31.03px"><span class="b">VIF</span><span class="fv k">0</span></div><div class="fr" style="top:44.82px"><span class="b">AC</span><span class="fv k">0</span></div><div class="fr" style="top:58.61px"><span class="b">VM</span><span class="fv k">0</span></div><div class="fr" style="top:72.40px"><span class="b">RF</span><span class="fv k">0</span></div><div class="fr" style="top:86.19px"><span class="b">NT</span><span class="fv k">0</span></div><div class="fr" style="top:99.98px"><span class="b">IOPL</span><span class="fv k">0</span></div><div class="fr" style="top:113.77px"><span class="b">OF</span><span class="fv k">0</span></div><div class="fr" style="top:127.56px"><span class="b">DF</span><span class="fv k">0</span></div><div class="fr" style="top:141.35px"><span class="b">IF</span><span class="fv k">1</span></div><div class="fr" style="top:155.14px"><span class="b">TF</span><span class="fv k">0</span></div><div class="fr" style="top:168.93px"><span class="b">SF</span><span class="fv k">1</span></div><div class="fr" style="top:182.72px"><span class="b">ZF</span><span class="fv k">0</span></div><div class="fr" style="top:196.51px"><span class="b">AF</span><span class="fv k">1</span></div><div class="fr" style="top:210.30px"><span class="b">PF</span><span class="fv k">1</span></div><div class="fr" style="top:224.09px"><span class="b">CF</span><span class="fv k">1</span></div></div>
 <div id="rgap"></div>
 <div class="ph" style="top:360.4px;height:28.5px"><svg class="ic" style="top:4.8px" width="16" height="16" viewBox="0 0 16 16"><use href="#modicon"/></svg><span class="t" style="top:5.6px">Modules</span><svg class="pb" style="right:4.2px" width="76" height="16" viewBox="0 0 76 16"><use href="#panelbtns"/></svg></div>
 <div id="mods"><div id="mhead"><span style="left:3.6px;top:3.4px">Path</span><i style="left:431.6px"></i><span style="left:436.6px">B</span></div><div class="mr sel" style="top:20.60px"><svg class="mi" width="16" height="16" viewBox="0 0 16 16"><use href="#modicon"/></svg><span class="mt">/home/henri/flair84/bin/linux/sigmake</span><span class="mz">0</span></div><div class="mr" style="top:38.25px"><svg class="mi" width="16" height="16" viewBox="0 0 16 16"><use href="#modicon"/></svg><span class="mt">/usr/lib/x86_64-linux-gnu/libc.so.6</span><span class="mz">0</span></div><div class="mr" style="top:55.90px"><svg class="mi" width="16" height="16" viewBox="0 0 16 16"><use href="#modicon"/></svg><span class="mt">/usr/lib/x86_64-linux-gnu/libstdc++.so.6.0.30</span><span class="mz">0</span></div><div class="mr" style="top:73.55px"><svg class="mi" width="16" height="16" viewBox="0 0 16 16"><use href="#modicon"/></svg><span class="mt">/usr/lib/x86_64-linux-gnu/libgcc_s.so.1</span><span class="mz">0</span></div><div class="mr" style="top:91.20px"><svg class="mi" width="16" height="16" viewBox="0 0 16 16"><use href="#modicon"/></svg><span class="mt">/usr/lib/x86_64-linux-gnu/libm.so.6</span><span class="mz">0</span></div><div class="mr" style="top:108.85px"><svg class="mi" width="16" height="16" viewBox="0 0 16 16"><use href="#modicon"/></svg><span class="mt">/usr/lib/x86_64-linux-gnu/libpthread.so.0</span><span class="mz">0</span></div><div class="mr" style="top:126.50px"><svg class="mi" width="16" height="16" viewBox="0 0 16 16"><use href="#modicon"/></svg><span class="mt">/usr/lib/x86_64-linux-gnu/librt.so.1</span><span class="mz">0</span></div><div class="mr" style="top:144.15px"><svg class="mi" width="16" height="16" viewBox="0 0 16 16"><use href="#modicon"/></svg><span class="mt">[vdso]</span><span class="mz">0</span></div><div class="mr" style="top:161.80px"><svg class="mi" width="16" height="16" viewBox="0 0 16 16"><use href="#modicon"/></svg><span class="mt">/usr/lib/x86_64-linux-gnu/ld-linux-x86-64.so.2</span><span class="mz">0</span></div></div>
 <div id="mbelow"></div>
 <div id="status"><span>Line 1 of 9</span></div>
 <div class="ph" style="top:631.4px;height:28.5px"><svg class="ic" style="top:5px" width="16" height="16" viewBox="0 0 16 16"><use href="#thricon"/></svg><span class="t" style="top:5.6px">Threads</span><svg class="pb" style="right:4.2px" width="76" height="16" viewBox="0 0 76 16"><use href="#panelbtns"/></svg></div>
 <div id="thr"><div id="thead"><span style="left:3.8px">Decimal</span><i style="left:76px"></i><span style="left:81.4px">Hex</span><i style="left:132px"></i><span style="left:137.2px">State</span><i style="left:241px"></i><span style="left:246.4px">Name</span><i style="left:442.6px;width:1.6px;background:#bbb"></i></div>
  <div id="trow"><svg style="position:absolute;left:4.7px;top:1.8px" width="16" height="16" viewBox="0 0 16 16"><use href="#thricon"/></svg><span style="left:26.2px">1765...</span><span style="left:82.4px">1AF1...</span><span style="left:138.2px">Ready</span><span style="left:247.4px">sigmake</span></div>
 </div>
</div>
</div>
<div class="blk" style="left:0;top:0;width:8px;height:8px"></div>
<div class="blk" style="left:1368px;top:0;width:4px;height:16px"></div>
<div class="blk" style="left:0;top:790px;width:8px;height:8px"></div>
<div class="blk" style="left:1368px;top:784px;width:4px;height:14px"></div>
<div class="blk" style="left:1360px;top:792px;width:12px;height:6px"></div>
</body></html>
